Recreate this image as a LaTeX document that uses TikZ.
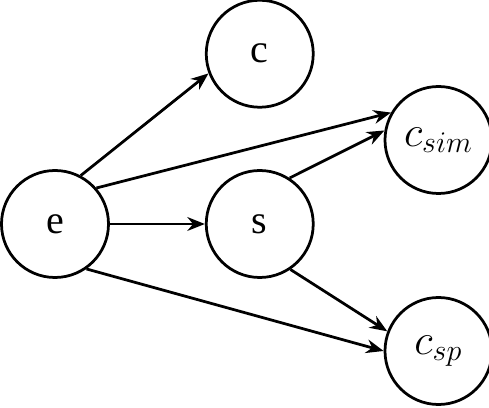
\documentclass[tikz,border=0pt]{standalone}
\usepackage{fontspec}
\setmainfont{Liberation Serif}
\usepackage{amsmath}
\usetikzlibrary{positioning, arrows.meta}

\begin{document}
\begin{tikzpicture}[
    state/.style={draw, circle, line width=1.1pt, minimum size=42.8pt, inner sep=0pt, font=\fontsize{16}{19}\selectfont\rmfamily},
    mstate/.style={state, font=\fontsize{17.5}{20}\selectfont},
    >={Stealth[length=7pt,width=5.5pt]}, line width=1.1pt]
    \useasboundingbox (-22pt,89.6pt) rectangle (173.6pt,-73.6pt);
    \node[state] (e) {e};
    \node[state] (s) [right=38pt of e]{s};
    \node[state] (c) [above=24.2pt of s]{c};
    \node[mstate] (csim) [right=27.6pt of s, yshift=33.6pt]{$c_{sim}$};
    \node[mstate] (csp) [right=27.6pt of s, yshift=-50.8pt]{$c_{sp}$};
    \draw[->] (e.62)   -- (c.201);
    \draw[->] (e.41)   -- (csim.150);
    \draw[->] (e.east) -- (s.west);
    \draw[->] (e.305)  -- (csp.west);
    \draw[->] (s.57)   -- (csim.170);
    \draw[->] (s.304)  -- (csp.159);
\end{tikzpicture}
\end{document}
